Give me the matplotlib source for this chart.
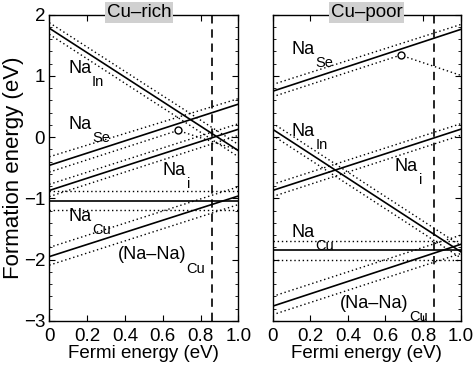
import matplotlib
matplotlib.use('Agg')
import matplotlib.pyplot as plt
from matplotlib.ticker import MultipleLocator, FixedLocator, FixedFormatter

plt.rcParams['font.family'] = ['Liberation Sans', 'DejaVu Sans']

# Fermi energy endpoints (eV)
fermi = [0.0, 1.0]
fermi_kink = [0.0, 0.68, 1.0]
e_fermi_vbm = 0.86

# Cu-rich: formation energies at E_F = 0 and E_F = 1 (solid, dotted upper, dotted lower)
rich_nain = [1.78, -0.22]
rich_nain_up = [1.87, -0.12]
rich_nain_lo = [1.68, -0.32]
rich_nase = [-0.46, 0.54]
rich_nase_up = [-0.32, 0.63]
rich_nase_lo = [-0.57, 0.11, -0.21]   # kinked at the transition level (circle)
rich_nacu = [-1.04, -1.04]
rich_nacu_up = [-0.88, -0.88]
rich_nacu_lo = [-1.19, -1.19]
rich_nanacu = [-1.95, -0.96]
rich_nanacu_up = [-1.80, -0.81]
rich_nanacu_lo = [-2.09, -1.10]

# Na_i does not depend on the Cu chemical potential
nai = [-0.87, 0.13]
nai_up = [-0.77, 0.22]
nai_lo = [-0.97, 0.03]

# Cu-poor
poor_nain = [0.13, -1.87]
poor_nain_up = [0.23, -1.77]
poor_nain_lo = [0.03, -1.97]
poor_nase = [0.75, 1.76]
poor_nase_up = [0.86, 1.84]
poor_nase_lo = [0.66, 1.34, 1.01]
poor_nacu = [-1.85, -1.85]
poor_nacu_up = [-1.70, -1.70]
poor_nacu_lo = [-2.00, -2.00]
poor_nanacu = [-2.76, -1.75]
poor_nanacu_up = [-2.60, -1.60]
poor_nanacu_lo = [-2.90, -1.90]

xticks = [0, 0.2, 0.4, 0.6, 0.8, 1.0]
xticklabels = ['0', '0.2', '0.4', '0.6', '0.8', '1.0']
yticks = [-3, -2, -1, 0, 1, 2]
yticklabels = ['\u22123', '\u22122', '\u22121', '0', '1', '2']

panels = [
    dict(title='Cu\u2013rich', title_x=0.475,
         nain=(rich_nain, rich_nain_up, rich_nain_lo),
         nase=(rich_nase, rich_nase_up, rich_nase_lo),
         nacu=(rich_nacu, rich_nacu_up, rich_nacu_lo),
         nanacu=(rich_nanacu, rich_nanacu_up, rich_nanacu_lo),
         labels=[('Na', 'In', 0.10, 1.12), ('Na', 'Se', 0.10, 0.21),
                 ('Na', 'i', 0.60, -0.54), ('Na', 'Cu', 0.10, -1.29),
                 ('(Na\u2013Na)', 'Cu', 0.36, -1.92)]),
    dict(title='Cu\u2013poor', title_x=0.5,
         nain=(poor_nain, poor_nain_up, poor_nain_lo),
         nase=(poor_nase, poor_nase_up, poor_nase_lo),
         nacu=(poor_nacu, poor_nacu_up, poor_nacu_lo),
         nanacu=(poor_nanacu, poor_nanacu_up, poor_nanacu_lo),
         labels=[('Na', 'Se', 0.10, 1.43), ('Na', 'In', 0.10, 0.09),
                 ('Na', 'i', 0.65, -0.48), ('Na', 'Cu', 0.10, -1.55),
                 ('(Na\u2013Na)', 'Cu', 0.36, -2.71)]),
]

fig = plt.figure(figsize=(4.74, 3.68), dpi=100)
axes = [fig.add_axes([0.104, 0.128, 0.399, 0.832]),
        fig.add_axes([0.575, 0.128, 0.397, 0.832])]

for ax, p in zip(axes, panels):
    solid = dict(color='black', lw=1.2)
    dots = dict(color='black', lw=1.0, ls=(0, (1, 2.0)))
    for key in ('nain', 'nacu', 'nanacu'):
        s, up, lo = p[key]
        ax.plot(fermi, s, **solid)
        ax.plot(fermi, up, **dots)
        ax.plot(fermi, lo, **dots)
    s, up, lo = p['nase']
    ax.plot(fermi, s, **solid)
    ax.plot(fermi, up, **dots)
    ax.plot(fermi_kink, lo, **dots)
    ax.plot(fermi_kink[1], lo[1], 'o', mfc='white', mec='black', ms=5, mew=1.0)
    ax.plot(fermi, nai, **solid)
    ax.plot(fermi, nai_up, **dots)
    ax.plot(fermi, nai_lo, **dots)
    ax.axvline(e_fermi_vbm, color='black', lw=1.2, ls=(0, (5, 3.5)))

    for main, sub, x, y in p['labels']:
        t = ax.text(x, y, main, fontsize=13, va='center', ha='left')
        ax.annotate(sub, xy=(1.0, 0.0), xycoords=t, xytext=(0.5, -3.8),
                    textcoords='offset points', fontsize=10.5,
                    va='center', ha='left')

    ax.text(p['title_x'], 1.0065, p['title'], transform=ax.transAxes,
            fontsize=13.5, ha='center', va='center',
            bbox=dict(facecolor='#d0d0d0', edgecolor='none', pad=1.3))

    ax.set_xlim(0, 1)
    ax.set_ylim(-3, 2)
    ax.xaxis.set_major_locator(FixedLocator(xticks))
    ax.xaxis.set_major_formatter(FixedFormatter(xticklabels))
    ax.yaxis.set_major_locator(FixedLocator(yticks))
    ax.yaxis.set_minor_locator(MultipleLocator(0.2))
    ax.tick_params(which='both', direction='in', top=True, right=True,
                   labelsize=13.5)
    ax.tick_params(axis='x', pad=5)
    ax.tick_params(axis='y', pad=3)
    ax.tick_params(which='major', length=4, width=0.8)
    ax.tick_params(which='minor', length=2, width=0.6)
    for sp in ax.spines.values():
        sp.set_linewidth(1.0)
    ax.set_xlabel('Fermi energy (eV)', fontsize=13.5, labelpad=0)

axes[0].yaxis.set_major_formatter(FixedFormatter(yticklabels))
axes[0].set_ylabel('Formation energy (eV)', fontsize=16, labelpad=0)
axes[1].set_yticklabels([])

fig.savefig('out.png', dpi=100)
